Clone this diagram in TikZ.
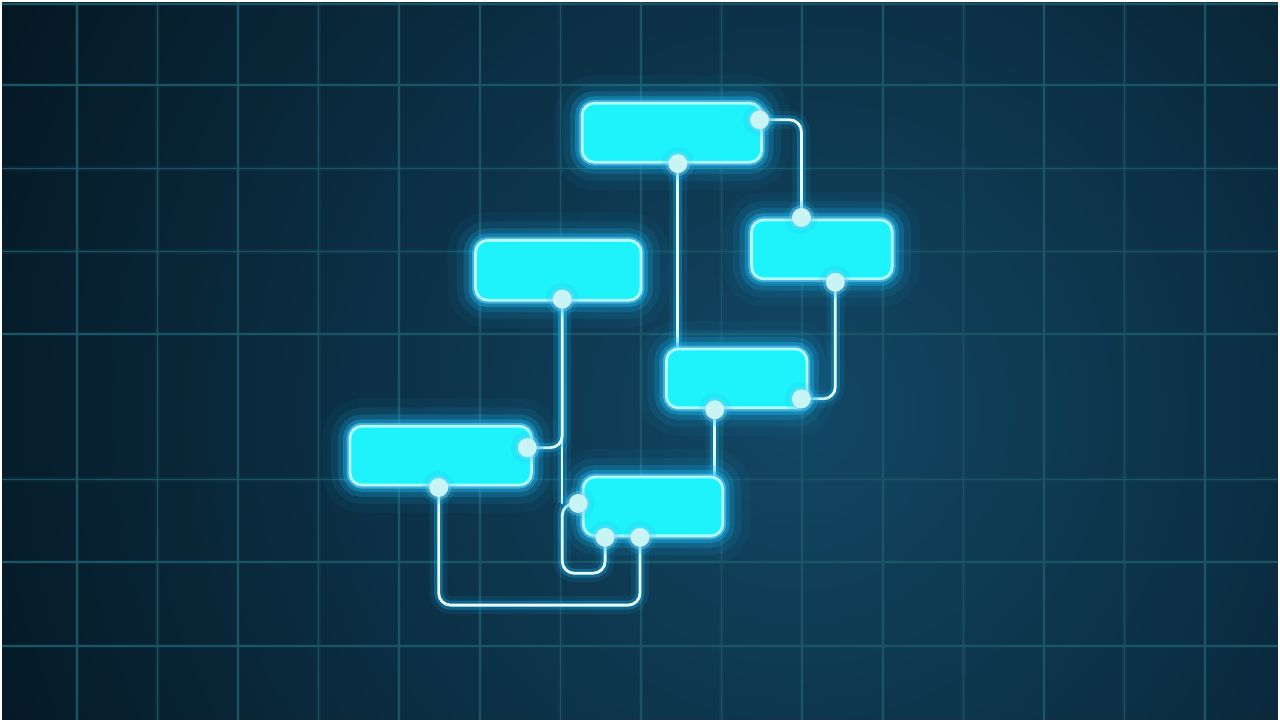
\documentclass[tikz,border=0pt]{standalone}
\definecolor{bgA}{HTML}{124765}
\definecolor{bgB}{HTML}{03111A}
\definecolor{gridc}{HTML}{1A5565}
\definecolor{boxfill}{HTML}{1EF2FA}
\definecolor{boxedge}{HTML}{B0FCFF}
\definecolor{glowc}{HTML}{18B8F2}
\definecolor{wirec}{HTML}{E8FEFF}
\definecolor{dotc}{HTML}{C8F4F6}
\pgfdeclarelayer{bg}
\pgfdeclarelayer{wires}
\pgfsetlayers{bg,wires,main}
\begin{document}
\begin{tikzpicture}[x=0.5pt,y=-0.5pt,
  box/.style={rectangle, rounded corners=6pt, inner sep=0pt, minimum height=29.5pt,
    fill=boxfill, draw=boxedge, line width=1.4pt,
    preaction={draw=glowc, line width=28pt, draw opacity=0.05},
    preaction={draw=glowc, line width=19pt, draw opacity=0.1},
    preaction={draw=glowc, line width=12pt, draw opacity=0.2},
    preaction={draw=glowc, line width=7pt, draw opacity=0.38},
    preaction={draw=cyan!60!white, line width=3.5pt, draw opacity=0.6}},
  dot/.style={circle, inner sep=0pt, minimum size=9.5pt, fill=dotc,
    preaction={draw=glowc, line width=7pt, draw opacity=0.15},
    preaction={draw=cyan!50!white, line width=3pt, draw opacity=0.35}},
  wire/.style={draw=wirec, line width=1.4pt, rounded corners=6pt, line cap=round,
    preaction={draw=glowc, line width=9pt, draw opacity=0.1},
    preaction={draw=glowc, line width=4.5pt, draw opacity=0.3}},
  thinwire/.style={wire, line width=1pt},
  gridline/.style={draw=gridc, line width=0.8pt,
    preaction={draw=gridc, line width=2.2pt, draw opacity=0.2}}]

\begin{pgfonlayer}{bg}
  \fill[bgB] (0,0) rectangle (1280,720);
  \begin{scope}
    \clip (0,0) rectangle (1280,720);
    \shade[inner color=bgA, outer color=bgB] (800,410) circle (1020);
  \end{scope}
  \foreach \i in {0,...,14}
    \draw[gridline] ({75+80.86*\i},0) -- ({75+80.86*\i},720);
  \foreach \yy in {2,83,167,250,333,479,562,646}
    \draw[gridline] (0,\yy) -- (1280,\yy);
\end{pgfonlayer}

% boxes
\node[box, minimum width=90pt]   (n1) at (672,131) {};
\node[box, minimum width=70.5pt] (n2) at (822.5,248) {};
\node[box, minimum width=83pt, minimum height=30pt] (n3) at (558,269) {};
\node[box, minimum width=70.5pt] (n4) at (737,377.5) {};
\node[box, minimum width=91pt]   (n5) at (440,455) {};
\node[box, minimum width=70pt]   (n6) at (653,506) {};

% connection dots
\node[dot] (d1a) at (760,118) {};
\node[dot] (d1b) at (678,162) {};
\node[dot] (d2t) at (802,216) {};
\node[dot] (d2b) at (836,281) {};
\node[dot] (d3b) at (562,298) {};
\node[dot] (d4b) at (715,409) {};
\node[dot] (d4r) at (802,398) {};
\node[dot] (d5r) at (527,447) {};
\node[dot] (d5b) at (438,487) {};
\node[dot] (d6l) at (578,503) {};
\node[dot] (d6b1) at (605,537) {};
\node[dot] (d6b2) at (640,537) {};

\coordinate (loopc) at (562,573);
\coordinate (ecorner) at (640,605);

\begin{pgfonlayer}{wires}
  \draw[thinwire] (d3b.center) -- (d3b.center |- d6l.center);
  \draw[wire] (d1a.center) -| (d2t.center);
  \draw[wire] (d1b.center) -- (d1b.center |- n4.north);
  \draw[wire] (d2b.center) |- (d4r.center);
  \draw[wire] (d3b.center) |- (d5r.center);
  \draw[wire] (d6l.center) -| (loopc) -| (d6b1.center);
  \draw[wire] (d5b.center) |- (ecorner) -- (d6b2.center);
  \draw[wire] (d4b.center) -- (d4b.center |- n6.north);
\end{pgfonlayer}

\end{tikzpicture}
\end{document}
